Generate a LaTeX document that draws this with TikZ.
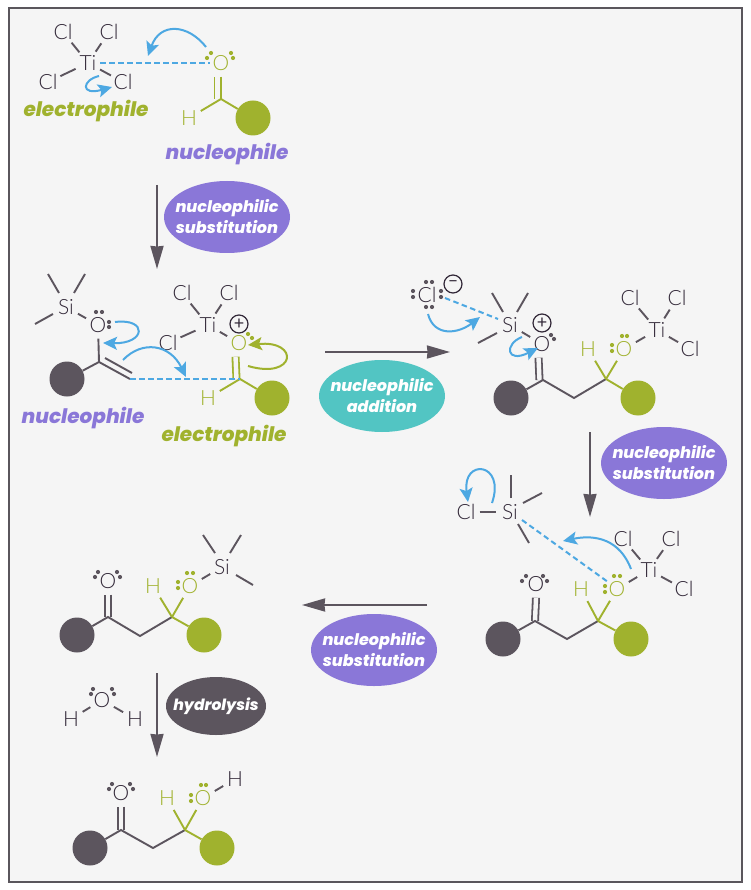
\documentclass[tikz,border=0pt]{standalone}
\usepackage{fontspec}
\setmainfont{Lato}
\newfontfamily\atomfont{Lato Light}
\newfontfamily\labelfont{Poppins ExtraBold Italic}
\usetikzlibrary{shapes,arrows.meta,calc}
\definecolor{framegray}{RGB}{90,86,92}
\definecolor{panelgray}{RGB}{245,245,245}
\definecolor{molgray}{RGB}{92,85,94}
\definecolor{atomgray}{RGB}{50,40,56}
\definecolor{molgreen}{RGB}{160,178,46}
\definecolor{arrowblue}{RGB}{77,168,226}
\definecolor{labelpurple}{RGB}{138,119,216}
\definecolor{labelteal}{RGB}{82,197,195}

\begin{document}
\begin{tikzpicture}[
    x=1pt, y=-1pt,
    atom/.style={circle, inner sep=0pt, minimum size=27pt, text=atomgray, font=\atomfont\fontsize{21}{23}\selectfont},
    atomg/.style={atom, text=molgreen},
    bond/.style={draw=molgray, line width=1.9pt},
    bondg/.style={draw=molgreen, line width=1.9pt},
    dbond/.style={bond, double=panelgray, double distance=4.4pt, line width=1.8pt},
    dbondg/.style={bondg, double=panelgray, double distance=4.4pt, line width=1.8pt},
    ball/.style={circle, fill=molgray, inner sep=0pt, minimum size=35pt},
    ballg/.style={ball, fill=molgreen},
    charge/.style={circle, draw=atomgray, line width=1.2pt, inner sep=0pt, minimum size=18pt, text=atomgray, font=\fontsize{18}{18}\selectfont},
    dashbond/.style={draw=arrowblue, line width=2pt, dash pattern=on 5.5pt off 3.5pt},
    curved/.style={draw=arrowblue, line width=2pt, -{Stealth[length=14pt,width=13pt,inset=3pt]}},
    curvedg/.style={curved, draw=molgreen},
    step arrow/.style={draw=molgray, line width=2pt, -{Stealth[length=23pt,width=13pt,inset=0.5pt]}},
    oval/.style={ellipse, inner sep=-12pt, minimum width=126pt, minimum height=72pt, align=center, text=white, font=\labelfont\fontsize{16}{21}\selectfont},
    tag/.style={font=\labelfont\fontsize{20}{22}\selectfont}
]

\useasboundingbox (0,0) rectangle (750,890);
\draw[framegray, fill=panelgray, line width=2pt] (8.5,8.5) rectangle (741.5,881.5);

% Step 1: TiCl4 and the aldehyde
\node[atom] (ti1) at (88,63) {Ti};
\node[atom] (ti1a) at (63,32) {Cl};
\node[atom] (ti1b) at (109,32) {Cl};
\node[atom] (ti1c) at (48,82) {Cl};
\node[atom] (ti1d) at (123,82) {Cl};
\node[atomg] (o1) at (221,63) {O};
\node[atomg] (h1) at (189,118) {H};
\node[ballg] (r1) at (253,118) {};
\coordinate (c1) at (221,99);
\draw[bond] (ti1) -- (ti1a);
\draw[bond] (ti1) -- (ti1b);
\draw[bond] (ti1) -- (ti1c);
\draw[bond] (ti1) -- (ti1d);
\draw[dbondg] ([xshift=-3.5pt]o1.south) -- ([xshift=-3.5pt]c1);
\draw[bondg] (h1) -- (c1) -- (r1);
\foreach \p in {(211,53),(207,58),(231,53),(233,58)} \fill[molgreen] \p circle (2.1);
\coordinate (d1) at (100,63);
\coordinate (d2) at (210,63);
\draw[dashbond] (d1) -- (d2);
\coordinate (a1s) at (206,47);
\coordinate (a1e) at (148,56);
\draw[curved] (a1s) .. controls (188,24) and (160,22) .. (a1e);
\coordinate (a2s) at (99,76);
\coordinate (a2e) at (112,87);
\draw[curved] (a2s) .. controls (82,80) and (80,96) .. (a2e);
\node[tag, text=molgreen] (tag1) at (86,111) {electrophile};
\node[tag, text=labelpurple] (tag2) at (227,154) {nucleophile};

% Arrow down with first oval
\coordinate (s1a) at (157,185);
\coordinate (s1b) at (157,269);
\draw[step arrow] (s1a) -- (s1b);
\node[oval, fill=labelpurple] (oval1) at (227,217) {nucleophilic\\substitution};

% Step 2: silyl enol ether attacks
\node[atom] (si2) at (66,307) {Si};
\node[atom] (o2) at (98,325) {O};
\coordinate (m2a) at (48,274);
\coordinate (m2b) at (85,274);
\coordinate (m2c) at (35,324);
\coordinate (m2ae) at (59,293);
\coordinate (m2be) at (74,293);
\coordinate (m2ce) at (53,314);
\coordinate (c2) at (99,362);
\coordinate (ch2) at (130,379);
\coordinate (ch2a) at (105,358);
\coordinate (ch2b) at (132,373);
\node[ball] (r2) at (67,379) {};
\draw[bond] (m2ae) -- (m2a);
\draw[bond] (m2be) -- (m2b);
\draw[bond] (m2ce) -- (m2c);
\draw[bond] (si2) -- (o2);
\draw[bond] (o2) -- (c2) -- (r2);
\draw[bond] (c2) -- (ch2);
\draw[bond] (ch2a) -- (ch2b);
\foreach \p in {(96,312),(102,312),(109,322),(109,327)} \fill[molgray] \p circle (2.1);
\node[atom] (ti2) at (208,325) {Ti};
\node[atom] (ti2a) at (182,293) {Cl};
\node[atom] (ti2b) at (229,293) {Cl};
\node[atom] (ti2c) at (168,343) {Cl};
\node[atomg] (o2b) at (239,343) {O};
\node[charge] (plus2) at (239,324) {+};
\node[atomg] (h2) at (208,398) {H};
\node[ballg] (r2b) at (272,398) {};
\coordinate (c2b) at (240,379);
\draw[bond] (ti2) -- (ti2a);
\draw[bond] (ti2) -- (ti2b);
\draw[bond] (ti2) -- (ti2c);
\draw[bond] (ti2) -- (o2b);
\draw[dbondg] ([xshift=-3.5pt]o2b.south) -- ([xshift=-3.5pt]c2b);
\draw[bondg] (h2) -- (c2b) -- (r2b);
\foreach \p in {(248,334),(252,338)} \fill[molgreen] \p circle (2.1);
\draw[dashbond] (ch2) -- (c2b);
\coordinate (a3s) at (115,322);
\coordinate (a3e) at (103,343);
\draw[curved] (a3s) .. controls (148,318) and (146,344) .. (a3e);
\coordinate (a4s) at (123,360);
\coordinate (a4e) at (186,377);
\draw[curved] (a4s) .. controls (142,340) and (170,344) .. (a4e);
\coordinate (a5s) at (248,366);
\coordinate (a5e) at (248,345);
\draw[curvedg] (a5s) .. controls (296,380) and (300,340) .. (a5e);
\node[tag, text=labelpurple] (tag3) at (83,418) {nucleophile};
\node[tag, text=molgreen] (tag4) at (224,436) {electrophile};

% Arrow right with teal oval
\coordinate (s2a) at (325,352);
\coordinate (s2b) at (450,352);
\draw[step arrow] (s2a) -- (s2b);
\node[oval, fill=labelteal] (oval2) at (382,396) {nucleophilic\\addition};

% Step 3: chloride attacks silicon
\node[atom] (cl3) at (427,295) {Cl};
\node[charge] (minus3) at (453,284) {\raisebox{0.5pt}{--}};
\foreach \p in {(426,282),(432,282),(413,291),(413,297),(441,291),(441,297),(426,307),(432,307)} \fill[molgray] \p circle (2.1);
\node[atom] (si3) at (510,325) {Si};
\node[atom] (o3) at (542,344) {O};
\node[charge] (plus3) at (542,323) {+};
\coordinate (m3a) at (492,293);
\coordinate (m3b) at (528,293);
\coordinate (m3c) at (478,343);
\coordinate (m3ae) at (503,312);
\coordinate (m3be) at (517,312);
\coordinate (m3ce) at (497,333);
\draw[bond] (m3ae) -- (m3a);
\draw[bond] (m3be) -- (m3b);
\draw[bond] (m3ce) -- (m3c);
\draw[bond] (si3) -- (o3);
\foreach \p in {(551,335),(554,339)} \fill[molgray] \p circle (2.1);
\coordinate (c3) at (543,380);
\coordinate (m3) at (574,398);
\coordinate (c3b) at (606,379);
\node[ball] (r3) at (511,398) {};
\node[ballg] (r3b) at (638,398) {};
\node[atomg] (h3) at (588,349) {H};
\node[atomg] (o3b) at (624,349) {O};
\node[atom] (ti3) at (657,330) {Ti};
\node[atom] (ti3a) at (630,298) {Cl};
\node[atom] (ti3b) at (677,298) {Cl};
\node[atom] (ti3c) at (690,349) {Cl};
\draw[dbond] ([xshift=-3.5pt]o3.south) -- ([xshift=-3.5pt]c3);
\draw[bond] (r3) -- (c3) -- (m3) -- (c3b);
\draw[bondg] (h3) -- (c3b);
\draw[bondg] (o3b) -- (c3b);
\draw[bondg] (c3b) -- (r3b);
\draw[bond] (o3b) -- (ti3);
\draw[bond] (ti3) -- (ti3a);
\draw[bond] (ti3) -- (ti3b);
\draw[bond] (ti3) -- (ti3c);
\foreach \p in {(622,336),(627,336),(612,345),(612,351)} \fill[molgreen] \p circle (2.1);
\coordinate (d3a) at (445,298);
\coordinate (d3b) at (498,319);
\draw[dashbond] (d3a) -- (d3b);
\coordinate (a6s) at (428,314);
\coordinate (a6e) at (480,317);
\draw[curved] (a6s) .. controls (434,337) and (458,334) .. (a6e);
\coordinate (a7s) at (522,337);
\coordinate (a7e) at (538,348);
\draw[curved] (a7s) .. controls (504,344) and (506,364) .. (a7e);

% Arrow down with second oval
\coordinate (s3a) at (590,432);
\coordinate (s3b) at (590,517);
\draw[step arrow] (s3a) -- (s3b);
\node[oval, fill=labelpurple] (oval3) at (664,463) {nucleophilic\\substitution};

% Step 4: silyl chloride leaves
\node[atom] (cl4) at (466,512) {Cl};
\node[atom] (si4) at (510,512) {Si};
\coordinate (m4a) at (511,475);
\coordinate (m4b) at (542,493);
\coordinate (m4c) at (529,543);
\coordinate (m4ae) at (511,498);
\coordinate (m4be) at (523,503);
\coordinate (m4ce) at (518,524);
\draw[bond] (cl4) -- (si4);
\draw[bond] (m4ae) -- (m4a);
\draw[bond] (m4be) -- (m4b);
\draw[bond] (m4ce) -- (m4c);
\node[atom] (ti4) at (649,570) {Ti};
\node[atom] (ti4a) at (623,539) {Cl};
\node[atom] (ti4b) at (671,539) {Cl};
\node[atom] (ti4c) at (684,589) {Cl};
\node[atomg] (o4b) at (617,589) {O};
\node[atomg] (h4) at (581,589) {H};
\node[atom] (o4) at (536,584) {O};
\coordinate (c4) at (535,621);
\coordinate (m4) at (567,639);
\coordinate (c4b) at (598,621);
\node[ball] (r4) at (503,639) {};
\node[ballg] (r4b) at (631,639) {};
\draw[dbond] (o4.south) -- (c4);
\draw[bond] (r4) -- (c4) -- (m4) -- (c4b);
\draw[bondg] (h4) -- (c4b);
\draw[bondg] (o4b) -- (c4b);
\draw[bondg] (c4b) -- (r4b);
\draw[bond] (o4b) -- (ti4);
\draw[bond] (ti4) -- (ti4a);
\draw[bond] (ti4) -- (ti4b);
\draw[bond] (ti4) -- (ti4c);
\foreach \p in {(526,576),(522,581),(543,576),(547,581)} \fill[molgray] \p circle (2.1);
\foreach \p in {(614,576),(620,576),(605,586),(605,592)} \fill[molgreen] \p circle (2.1);
\coordinate (d4a) at (522,520);
\coordinate (d4b) at (608,582);
\draw[dashbond] (d4a) -- (d4b);
\coordinate (a8s) at (492,503);
\coordinate (a8e) at (468,502);
\draw[curved] (a8s) .. controls (506,462) and (462,458) .. (a8e);
\coordinate (a9s) at (631,569);
\coordinate (a9e) at (563,541);
\draw[curved] (a9s) .. controls (620,540) and (596,534) .. (a9e);

% Arrow left with third oval
\coordinate (s4a) at (427,605);
\coordinate (s4b) at (302,605);
\draw[step arrow] (s4a) -- (s4b);
\node[oval, fill=labelpurple] (oval4) at (374,650) {nucleophilic\\substitution};

% Step 5: silyl ether product
\node[atom] (si5) at (222,567) {Si};
\coordinate (m5a) at (203,535);
\coordinate (m5b) at (241,535);
\coordinate (m5c) at (253,585);
\coordinate (m5ae) at (215,553);
\coordinate (m5be) at (230,553);
\coordinate (m5ce) at (236,575);
\draw[bond] (m5ae) -- (m5a);
\draw[bond] (m5be) -- (m5b);
\draw[bond] (m5ce) -- (m5c);
\node[atomg] (o5b) at (190,586) {O};
\node[atomg] (h5) at (153,586) {H};
\node[atom] (o5) at (108,581) {O};
\coordinate (c5) at (108,617);
\coordinate (m5) at (140,636);
\coordinate (c5b) at (172,617);
\node[ball] (r5) at (77,635) {};
\node[ballg] (r5b) at (204,635) {};
\draw[dbond] (o5.south) -- (c5);
\draw[bond] (r5) -- (c5) -- (m5) -- (c5b);
\draw[bondg] (h5) -- (c5b);
\draw[bondg] (o5b) -- (c5b);
\draw[bondg] (c5b) -- (r5b);
\draw[bond] (o5b) -- (si5);
\foreach \p in {(98,572),(95,577),(117,572),(120,577)} \fill[molgray] \p circle (2.1);
\foreach \p in {(187,573),(193,573),(178,582),(178,588)} \fill[molgreen] \p circle (2.1);

% Hydrolysis with water
\coordinate (s5a) at (157,673);
\coordinate (s5b) at (157,757);
\draw[step arrow] (s5a) -- (s5b);
\node[oval, fill=molgray, minimum width=100pt, minimum height=58pt, inner sep=-14pt, font=\labelfont\fontsize{15.5}{21}\selectfont] (oval5) at (216,706) {hydrolysis};
\node[atom] (o6w) at (102,700) {O};
\node[atom] (h6a) at (71,719) {H};
\node[atom] (h6b) at (135,719) {H};
\draw[bond] (o6w) -- (h6a);
\draw[bond] (o6w) -- (h6b);
\foreach \p in {(93,689),(91,694),(112,689),(114,694)} \fill[molgray] \p circle (2.1);

% Step 6: final aldol product
\node[atom] (o7) at (121,793) {O};
\node[atomg] (h7) at (167,798) {H};
\node[atomg] (o7b) at (203,798) {O};
\node[atom] (h7b) at (235,779) {H};
\coordinate (c7) at (121,830);
\coordinate (m7) at (153,848);
\coordinate (c7b) at (185,830);
\node[ball] (r7) at (90,848) {};
\node[ballg] (r7b) at (217,848) {};
\draw[dbond] (o7.south) -- (c7);
\draw[bond] (r7) -- (c7) -- (m7) -- (c7b);
\draw[bondg] (h7) -- (c7b);
\draw[bondg] (o7b) -- (c7b);
\draw[bondg] (c7b) -- (r7b);
\draw[bond] (o7b) -- (h7b);
\foreach \p in {(112,784),(109,789),(130,784),(133,789)} \fill[molgray] \p circle (2.1);
\foreach \p in {(201,785),(206,785),(191,795),(191,801)} \fill[molgreen] \p circle (2.1);

\end{tikzpicture}
\end{document}
